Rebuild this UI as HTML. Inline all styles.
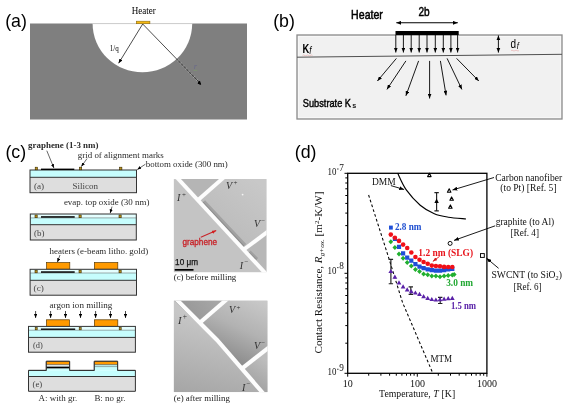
<!DOCTYPE html>
<html><head><meta charset="utf-8"><title>Figure</title>
<style>
html,body{margin:0;padding:0;background:#fff;width:568px;height:408px;overflow:hidden}
svg{display:block;filter:blur(0.3px)}
.sa{font-family:"Liberation Sans",sans-serif}
.se{font-family:"Liberation Serif",serif}
</style></head><body>
<svg width="568" height="408" viewBox="0 0 568 408">
<defs>
<marker id="ah" markerUnits="userSpaceOnUse" viewBox="0 0 10 8" refX="10" refY="4" markerWidth="4.6" markerHeight="3.6" orient="auto-start-reverse"><path d="M0,0L10,4L0,8z" fill="#000"/></marker>
<marker id="ahb" markerUnits="userSpaceOnUse" viewBox="0 0 10 8" refX="10" refY="4" markerWidth="4.8" markerHeight="3.8" orient="auto-start-reverse"><path d="M0,0L10,4L0,8z" fill="#000"/></marker>
<marker id="ahd" markerUnits="userSpaceOnUse" viewBox="0 0 10 8" refX="10" refY="4" markerWidth="5" markerHeight="4.4" orient="auto-start-reverse"><path d="M0,0L10,4L0,8z" fill="#000"/></marker>
<marker id="ahc" markerUnits="userSpaceOnUse" viewBox="0 0 10 8" refX="10" refY="4" markerWidth="4" markerHeight="3.5" orient="auto-start-reverse"><path d="M0,0L10,4L0,8z" fill="#000"/></marker>
<marker id="ahs" markerUnits="userSpaceOnUse" viewBox="0 0 10 8" refX="10" refY="4" markerWidth="5" markerHeight="3.9" orient="auto-start-reverse"><path d="M0,0L10,4L0,8z" fill="#000"/></marker>
<marker id="ahr" markerUnits="userSpaceOnUse" viewBox="0 0 10 8" refX="10" refY="4" markerWidth="4.4" markerHeight="3.6" orient="auto"><path d="M0,0L10,4L0,8z" fill="#d42020"/></marker>
</defs>

<!-- ================= PANEL A ================= -->
<text class="sa" x="16" y="27.3" font-size="17.8" text-anchor="middle">(a)</text>
<rect x="30" y="23.5" width="217" height="96" fill="#7f7f7f"/>
<path d="M92.6,23.5 A49.8,48.8 0 0 0 192.2,23.5 Z" fill="#fff"/>
<line x1="92.5" y1="23.6" x2="192.5" y2="23.6" stroke="#c8c8c8" stroke-width="0.8"/>
<rect x="136.3" y="21.2" width="13.6" height="2.5" fill="#f6b810" stroke="#8a6a10" stroke-width="0.6"/>
<text class="se" x="131.8" y="14" font-size="9.6" textLength="24.1" lengthAdjust="spacingAndGlyphs">Heater</text>
<line x1="142.7" y1="24" x2="118.6" y2="63.3" stroke="#000" stroke-width="0.7" marker-end="url(#ah)"/>
<line x1="142.7" y1="24" x2="177.6" y2="60" stroke="#111" stroke-width="0.75"/>
<line x1="177.6" y1="60" x2="199.8" y2="82.8" stroke="#b8b8b8" stroke-width="1.8" stroke-dasharray="1.6,2.2"/>
<line x1="177.6" y1="60" x2="199.8" y2="82.8" stroke="#2a2a2a" stroke-width="0.8"/>
<path d="M200.6,84.4 L198,83.3 L199.6,81.1 Z" fill="#000" stroke="#000" stroke-width="1"/>
<text class="se" x="109.8" y="50.6" font-size="8" textLength="9" lengthAdjust="spacingAndGlyphs">1/q</text>
<text class="se" x="193.8" y="68.8" font-size="8.6" fill="#6a6a8a" font-style="italic">r</text><line x1="193.4" y1="70.4" x2="197.4" y2="70.4" stroke="#7a9a6a" stroke-width="0.6"/>

<!-- ================= PANEL B ================= -->
<text class="sa" x="284" y="27.3" font-size="17.8" text-anchor="middle">(b)</text>
<rect x="297" y="35" width="265" height="84" fill="#f1f1f1" stroke="#8a8a8a" stroke-width="1.3"/>
<rect x="298.4" y="36.4" width="262.2" height="81.2" fill="none" stroke="#fafafa" stroke-width="0.6"/>
<line x1="297" y1="57.2" x2="562" y2="54.3" stroke="#505050" stroke-width="1"/>
<rect x="395.5" y="31" width="63.2" height="4" fill="#000"/>
<text class="sa" x="351.1" y="19.2" font-size="12.4" stroke="#000" stroke-width="0.5" textLength="31.8" lengthAdjust="spacingAndGlyphs">Heater</text>
<text class="sa" x="418.5" y="15.8" font-size="12.2" stroke="#000" stroke-width="0.5" textLength="11.2" lengthAdjust="spacingAndGlyphs">2b</text>
<line x1="396.3" y1="22.8" x2="457.8" y2="22.8" stroke="#000" stroke-width="1.05" marker-start="url(#ahd)" marker-end="url(#ahd)"/>
<g stroke="#000" stroke-width="0.9" marker-end="url(#ahb)">
<line x1="395.8" y1="35" x2="395.8" y2="52.5"/>
<line x1="403.4" y1="35" x2="403.4" y2="52.5"/>
<line x1="411.2" y1="35" x2="411.2" y2="52.5"/>
<line x1="419.2" y1="35" x2="419.2" y2="52.5"/>
<line x1="427.0" y1="35" x2="427.0" y2="52.5"/>
<line x1="435.3" y1="35" x2="435.3" y2="52.5"/>
<line x1="443.3" y1="35" x2="443.3" y2="52.5"/>
<line x1="450.9" y1="35" x2="450.9" y2="52.5"/>
<line x1="457.6" y1="35" x2="457.6" y2="52.5"/>
<line x1="396.4" y1="58.4" x2="377.4" y2="81"/>
<line x1="405.9" y1="60.9" x2="386.9" y2="89.4"/>
<line x1="418.6" y1="60.9" x2="405.9" y2="95.8"/>
<line x1="429.6" y1="60.9" x2="429.6" y2="98.5"/>
<line x1="440.4" y1="60.9" x2="446.1" y2="95.4"/>
<line x1="447.1" y1="58.4" x2="461.9" y2="89.4"/>
<line x1="456.6" y1="58.4" x2="478.8" y2="81"/>
</g>
<line x1="498.4" y1="35.4" x2="498.4" y2="52.6" stroke="#000" stroke-width="0.9" marker-start="url(#ahd)" marker-end="url(#ahd)"/>
<text class="sa" transform="translate(302.6,53.4) scale(0.72,1)" font-size="13" font-weight="bold">K</text>
<text class="sa" transform="translate(309.2,54.2) scale(0.8,1)" font-size="10" font-style="italic">f</text>
<path d="M302.5,55.4 q1,-0.8 2,0 t2,0 t2,0 t2,0 t2,0" fill="none" stroke="#e07070" stroke-width="0.5" opacity="0.7"/>
<text class="sa" transform="translate(510.6,47.9) scale(0.78,1)" font-size="12.8">d</text>
<text class="sa" transform="translate(516.8,48.9) scale(0.8,1)" font-size="9.6" font-style="italic">f</text>
<path d="M511,50.6 q1,-0.8 2,0 t2,0 t2,0 t2,0" fill="none" stroke="#e07070" stroke-width="0.5" opacity="0.7"/>
<text class="sa" x="302.8" y="107.4" font-size="11" stroke="#000" stroke-width="0.42" textLength="48.2" lengthAdjust="spacingAndGlyphs">Substrate K</text>
<text class="sa" x="352.6" y="108.4" font-size="7" stroke="#000" stroke-width="0.2">s</text>

<!-- ================= PANEL C ================= -->
<text class="sa" x="15.8" y="158.2" font-size="17.8" text-anchor="middle">(c)</text>
<g class="se" font-size="8" fill="#2a2a2a">
<text x="28.1" y="148.1" font-weight="bold" textLength="70.4" lengthAdjust="spacingAndGlyphs">graphene (1-3 nm)</text>
<text x="77.8" y="157.7" textLength="86" lengthAdjust="spacingAndGlyphs">grid of alignment marks</text>
<text x="145.8" y="166.6" textLength="81.9" lengthAdjust="spacingAndGlyphs">bottom oxide (300 nm)</text>
<text x="63.9" y="205.3" textLength="85.5" lengthAdjust="spacingAndGlyphs">evap. top oxide (30 nm)</text>
<text x="49.6" y="253.6" textLength="98.6" lengthAdjust="spacingAndGlyphs">heaters (e-beam litho. gold)</text>
<text x="49.6" y="308" textLength="62.8" lengthAdjust="spacingAndGlyphs">argon ion milling</text>
<text x="38.5" y="401.3" textLength="38.7" lengthAdjust="spacingAndGlyphs">A: with gr.</text>
<text x="94.4" y="401.3" textLength="31.1" lengthAdjust="spacingAndGlyphs">B: no gr.</text>
</g>
<g stroke="#000" stroke-width="0.6" marker-end="url(#ahc)">
<line x1="46.8" y1="150.7" x2="53.9" y2="168"/>
<line x1="87" y1="158.6" x2="81.3" y2="166.6"/>
<line x1="145.4" y1="164.2" x2="137.3" y2="169.6"/>
<line x1="112" y1="206.6" x2="110.2" y2="213.2"/>
<line x1="60" y1="255" x2="57.4" y2="262.2"/>
</g>
<!-- stack a -->
<rect x="30" y="177.3" width="106.5" height="15.4" fill="#dedede"/>
<rect x="30" y="170" width="106.5" height="7.3" fill="#c6fdfd"/>
<line x1="30" y1="177.3" x2="136.5" y2="177.3" stroke="#333" stroke-width="1"/>
<rect x="30" y="170" width="106.5" height="22.7" fill="none" stroke="#333" stroke-width="1"/>
<rect x="41" y="168.6" width="33.3" height="1.4" fill="#000"/>
<g fill="#c09418" stroke="#3a2c00" stroke-width="0.6">
<rect x="35.2" y="167.2" width="2.3" height="2.6"/>
<rect x="79.4" y="167.2" width="2.3" height="2.6"/>
<rect x="119.6" y="167.2" width="2.3" height="2.6"/>
</g>
<!-- stack b -->
<rect x="30.3" y="224.6" width="106" height="15.4" fill="#dedede"/>
<rect x="30.3" y="214" width="106" height="3.8" fill="#e4ffff"/>
<rect x="30.3" y="217.8" width="106" height="6.8" fill="#c6fdfd"/>
<line x1="30.3" y1="217.9" x2="136.3" y2="217.9" stroke="#555" stroke-width="0.5"/>
<line x1="30.3" y1="224.7" x2="136.3" y2="224.7" stroke="#333" stroke-width="1"/>
<rect x="30.3" y="214" width="106" height="26" fill="none" stroke="#333" stroke-width="1"/>
<rect x="41" y="216.2" width="33.7" height="1.5" fill="#000"/>
<g fill="#c09418" stroke="#3a2c00" stroke-width="0.6">
<rect x="35" y="215" width="2.2" height="2.7"/>
<rect x="79" y="215" width="2.2" height="2.7"/>
<rect x="119" y="215" width="2.2" height="2.7"/>
</g>
<!-- stack c -->
<rect x="46.6" y="262.6" width="23.2" height="6.6" fill="#ff9a00" stroke="#5a3a00" stroke-width="0.7"/>
<rect x="94.4" y="262.6" width="23.4" height="6.6" fill="#ff9a00" stroke="#5a3a00" stroke-width="0.7"/>
<rect x="30.1" y="280.3" width="106.4" height="15" fill="#dedede"/>
<rect x="30.1" y="269.3" width="106.4" height="3.6" fill="#e4ffff"/>
<rect x="30.1" y="272.9" width="106.4" height="7.4" fill="#c6fdfd"/>
<line x1="30.1" y1="273" x2="136.5" y2="273" stroke="#555" stroke-width="0.5"/>
<line x1="30.1" y1="280.3" x2="136.5" y2="280.3" stroke="#333" stroke-width="1"/>
<rect x="30.1" y="269.3" width="106.4" height="25.9" fill="none" stroke="#333" stroke-width="1"/>
<rect x="41" y="271.3" width="33.7" height="1.5" fill="#000"/>
<g fill="#c09418" stroke="#3a2c00" stroke-width="0.6">
<rect x="35" y="270.2" width="2.2" height="2.6"/>
<rect x="79" y="270.2" width="2.2" height="2.6"/>
<rect x="119" y="270.2" width="2.2" height="2.6"/>
</g>
<!-- stack d -->
<g stroke="#000" stroke-width="0.7" marker-end="url(#ahc)">
<line x1="35.6" y1="311" x2="35.6" y2="318"/>
<line x1="50.6" y1="311" x2="50.6" y2="318"/>
<line x1="65.5" y1="311" x2="65.5" y2="318"/>
<line x1="80.5" y1="311" x2="80.5" y2="318"/>
<line x1="95.6" y1="311" x2="95.6" y2="318"/>
<line x1="110.5" y1="311" x2="110.5" y2="318"/>
<line x1="125.5" y1="311" x2="125.5" y2="318"/>
</g>
<rect x="46.4" y="319.8" width="23" height="6.6" fill="#ff9a00" stroke="#5a3a00" stroke-width="0.7"/>
<rect x="94.4" y="319.8" width="23.4" height="6.6" fill="#ff9a00" stroke="#5a3a00" stroke-width="0.7"/>
<rect x="28.5" y="337.4" width="106.9" height="14.8" fill="#dedede"/>
<rect x="28.5" y="326.4" width="106.9" height="3.7" fill="#e4ffff"/>
<rect x="28.5" y="330.1" width="106.9" height="7.3" fill="#c6fdfd"/>
<line x1="28.5" y1="330.2" x2="135.4" y2="330.2" stroke="#555" stroke-width="0.5"/>
<line x1="28.5" y1="337.4" x2="135.4" y2="337.4" stroke="#333" stroke-width="1"/>
<rect x="28.5" y="326.4" width="106.9" height="25.8" fill="none" stroke="#333" stroke-width="1"/>
<rect x="40.9" y="328.5" width="34.3" height="1.4" fill="#000"/>
<g fill="#c09418" stroke="#3a2c00" stroke-width="0.6">
<rect x="35.2" y="327.6" width="2" height="2.2"/>
<rect x="79.2" y="327.6" width="2" height="2.2"/>
<rect x="119.2" y="327.6" width="2" height="2.2"/>
</g>
<!-- stack e -->
<rect x="28.5" y="376.5" width="106.9" height="14.8" fill="#dedede"/>
<rect x="28.5" y="370.4" width="106.9" height="6.1" fill="#c6fdfd"/>
<line x1="28.5" y1="376.5" x2="135.4" y2="376.5" stroke="#333" stroke-width="1"/>
<path d="M28.5,370.4 H46.3 V361.3 H69.6 V370.4 H94.3 V361.3 H117.6 V370.4 H135.4 V391.3 H28.5 Z" fill="none" stroke="#333" stroke-width="1"/>
<rect x="46.3" y="361.3" width="23.3" height="3.4" fill="#ff9a00"/>
<rect x="46.3" y="364.7" width="23.3" height="1.9" fill="#f4ffff"/>
<rect x="46.3" y="366.6" width="23.3" height="2" fill="#000"/>
<rect x="46.3" y="368.6" width="23.3" height="1.8" fill="#c6fdfd"/>
<rect x="94.3" y="361.3" width="23.3" height="3.4" fill="#ff9a00"/>
<rect x="94.3" y="364.7" width="23.3" height="5.7" fill="#c6fdfd"/>
<line x1="94.3" y1="366.6" x2="117.6" y2="366.6" stroke="#555" stroke-width="0.5"/>
<line x1="46.3" y1="364.7" x2="69.6" y2="364.7" stroke="#333" stroke-width="0.6"/>
<line x1="94.3" y1="364.7" x2="117.6" y2="364.7" stroke="#333" stroke-width="0.6"/>
<path d="M28.5,370.4 H46.3 V361.3 H69.6 V370.4 H94.3 V361.3 H117.6 V370.4 H135.4" fill="none" stroke="#333" stroke-width="1"/>
<!-- in-stack labels -->
<g class="se" font-size="8.2" fill="#444">
<text x="33.9" y="189.3" textLength="10.2" lengthAdjust="spacingAndGlyphs">(a)</text>
<text x="72.5" y="189.3" textLength="25.5" lengthAdjust="spacingAndGlyphs">Silicon</text>
<text x="34" y="236.4" textLength="10.4" lengthAdjust="spacingAndGlyphs">(b)</text>
<text x="33.6" y="290.8" textLength="10.2" lengthAdjust="spacingAndGlyphs">(c)</text>
<text x="33" y="347.6" textLength="9.8" lengthAdjust="spacingAndGlyphs">(d)</text>
<text x="32.5" y="386.8" textLength="9.8" lengthAdjust="spacingAndGlyphs">(e)</text>
</g>

<!-- SEM 1 -->
<defs>
<clipPath id="c1"><rect x="173.6" y="179.1" width="93" height="93.3"/></clipPath>
<clipPath id="c2"><rect x="173.6" y="300.4" width="94" height="91.8"/></clipPath>
<filter id="bl" x="-20%" y="-20%" width="140%" height="140%"><feGaussianBlur stdDeviation="0.8"/></filter>
<filter id="bl3" x="-20%" y="-20%" width="140%" height="140%"><feGaussianBlur stdDeviation="0.35"/></filter>
<linearGradient id="g2l" gradientUnits="userSpaceOnUse" x1="200" y1="318" x2="182" y2="392"><stop offset="0" stop-color="#c6c6c6"/><stop offset="1" stop-color="#a6a6a6"/></linearGradient>
<linearGradient id="g2t" gradientUnits="userSpaceOnUse" x1="190" y1="318" x2="215" y2="300"><stop offset="0" stop-color="#989898"/><stop offset="1" stop-color="#a6a6a6"/></linearGradient>
<linearGradient id="g2r" gradientUnits="userSpaceOnUse" x1="262" y1="302" x2="234" y2="362"><stop offset="0" stop-color="#c8c8c8"/><stop offset="0.5" stop-color="#b2b2b2"/><stop offset="1" stop-color="#8c8c8c"/></linearGradient>
<linearGradient id="g2b" gradientUnits="userSpaceOnUse" x1="266" y1="360" x2="250" y2="385"><stop offset="0" stop-color="#bdbdbd"/><stop offset="1" stop-color="#a2a2a2"/></linearGradient>
<linearGradient id="g1r" gradientUnits="userSpaceOnUse" x1="262" y1="185" x2="220" y2="240"><stop offset="0" stop-color="#c8c8c8"/><stop offset="1" stop-color="#bababa"/></linearGradient>
</defs>
<g clip-path="url(#c1)">
<rect x="173.6" y="179.1" width="93" height="93.3" fill="#c4c4c4"/>
<path d="M176,179.1 L222,179.1 L197,201 Z" fill="#b5b5b5"/>
<path d="M219.6,179.1 L266.6,179.1 L266.6,232.5 L242.5,249.8 L196.8,199.5 Z" fill="url(#g1r)"/>
<path d="M242.5,249.8 L266.6,232.5 L266.6,271.8 L262.5,271.8 Z" fill="#b7b7b7"/>
<g filter="url(#bl3)" fill="none" stroke-linecap="butt">
<path d="M203.8,201.3 L245,245.2" stroke="#a2a2a2" stroke-width="3.4"/>
<path d="M202.6,201.9 L243.9,246.1" stroke="#8e8e8e" stroke-width="1.3"/>
<path d="M249.6,251.6 L257.2,259" stroke="#a0a0a0" stroke-width="2.8"/>
<path d="M248.8,252.3 L256.4,259.7" stroke="#909090" stroke-width="1.1"/>
</g>
<g stroke="#fdfdfd" stroke-width="3.9" fill="none" filter="url(#bl3)">
<path d="M174.6,175 L267.9,276"/>
<path d="M226.5,175 L197.5,200.5"/>
<path d="M271,229.3 L243.5,249.8"/>
</g>
</g>
<circle cx="242.6" cy="194.6" r="0.9" fill="#f4f4f4"/><circle cx="248.5" cy="315.8" r="0.8" fill="#e0e0e0"/>
<g class="se" font-style="italic" fill="#303030" font-size="10">
<text x="177" y="201.4">I</text><text x="182" y="197.4" font-size="7" font-style="normal">+</text>
<text x="226" y="188.8">V</text><text x="233.4" y="185" font-size="7" font-style="normal">+</text>
<text x="254" y="226.6">V</text><text x="261.2" y="222.6" font-size="7" font-style="normal">−</text>
<text x="239.8" y="268.6">I</text><text x="244.4" y="264.4" font-size="7" font-style="normal">−</text>
</g>
<text class="sa" x="182.4" y="244.7" font-size="9.5" fill="#c8242a" stroke="#c8242a" stroke-width="0.35" textLength="34.7" lengthAdjust="spacingAndGlyphs">graphene</text>
<line x1="200.8" y1="237.3" x2="216.2" y2="230.5" stroke="#c8242a" stroke-width="1.1" marker-end="url(#ahr)"/>
<text class="sa" x="175.1" y="264.8" font-size="9" fill="#111" stroke="#111" stroke-width="0.25" textLength="22.9" lengthAdjust="spacingAndGlyphs">10 μm</text>
<rect x="174.7" y="269" width="18.8" height="1.7" fill="#000"/>
<text class="se" x="173.7" y="279.8" font-size="8.3" fill="#222" textLength="62.6" lengthAdjust="spacingAndGlyphs">(c) before milling</text>
<!-- SEM 2 -->
<g clip-path="url(#c2)">
<rect x="173.6" y="300.4" width="94" height="91.8" fill="url(#g2l)"/>
<path d="M174,300.4 L230,300.4 L199.5,325 Z" fill="url(#g2t)"/>
<path d="M225,300.4 L267.6,300.4 L267.6,347 L242,368.5 L199.5,323 Z" fill="url(#g2r)"/>
<path d="M242,368.5 L267.6,347 L267.6,392.2 L262,392.2 Z" fill="url(#g2b)"/>
<g stroke="#fdfdfd" stroke-width="4.1" fill="none" filter="url(#bl3)">
<path d="M173.1,296 L217,340 L265.5,396"/>
<path d="M230.6,296 L199.5,323"/>
<path d="M272.5,344.6 L241.8,368.6"/>
</g>
</g>
<g class="se" font-style="italic" fill="#303030" font-size="10">
<text x="178" y="323.6" font-size="10.5">I</text><text x="182.8" y="319.2" font-size="7.5" font-style="normal">+</text>
<text x="229" y="313.4">V</text><text x="236.4" y="309.6" font-size="7" font-style="normal">+</text>
<text x="254" y="348.8">V</text><text x="261.2" y="344.8" font-size="7" font-style="normal">−</text>
<text x="242" y="390.6">I</text><text x="246.6" y="386.4" font-size="7" font-style="normal">−</text>
</g>
<text class="se" x="173.8" y="401" font-size="8.3" fill="#222" textLength="56.1" lengthAdjust="spacingAndGlyphs">(e) after milling</text>

<!-- ================= PANEL D ================= -->
<text class="sa" x="305.6" y="158.2" font-size="17.8" text-anchor="middle">(d)</text>
<path d="M345.3,243.2H347.7 M345.3,225.6H347.7 M345.3,213.1H347.7 M345.3,203.4H347.7 M345.3,195.5H347.7 M345.3,188.8H347.7 M345.3,183.0H347.7 M345.3,177.9H347.7 M345.3,343.2H347.7 M345.3,325.6H347.7 M345.3,313.1H347.7 M345.3,303.4H347.7 M345.3,295.5H347.7 M345.3,288.8H347.7 M345.3,283.0H347.7 M345.3,277.9H347.7 M344.5,173.3H347.7 M344.5,273.3H347.7 M344.5,373.3H347.7 M368.7,373.3V375.7 M380.9,373.3V375.7 M389.6,373.3V375.7 M396.3,373.3V375.7 M401.9,373.3V375.7 M406.5,373.3V375.7 M410.6,373.3V375.7 M414.1,373.3V375.7 M438.3,373.3V375.7 M450.5,373.3V375.7 M459.2,373.3V375.7 M465.9,373.3V375.7 M471.5,373.3V375.7 M476.1,373.3V375.7 M480.2,373.3V375.7 M483.7,373.3V375.7 M347.7,373.3V376.7 M417.3,373.3V376.7 M486.9,373.3V376.7" stroke="#000" stroke-width="1" fill="none"/>
<rect x="347.7" y="173.3" width="139.2" height="200.0" fill="none" stroke="#000" stroke-width="1.3"/>
<g class="se" fill="#111">
<text x="327.6" y="175.0" font-size="10.4" textLength="8.9" lengthAdjust="spacingAndGlyphs">10</text>
<rect x="337" y="168.6" width="1.6" height="0.8" fill="#222"/>
<text x="339.2" y="170.6" font-size="9.6" textLength="4.6" lengthAdjust="spacingAndGlyphs">7</text>
<text x="327.6" y="273.7" font-size="10.4" textLength="8.9" lengthAdjust="spacingAndGlyphs">10</text>
<rect x="337" y="267.3" width="1.6" height="0.8" fill="#222"/>
<text x="339.2" y="269.3" font-size="9.6" textLength="4.6" lengthAdjust="spacingAndGlyphs">8</text>
<text x="327.6" y="375.2" font-size="10.4" textLength="8.9" lengthAdjust="spacingAndGlyphs">10</text>
<rect x="337" y="368.8" width="1.6" height="0.8" fill="#222"/>
<text x="339.2" y="370.8" font-size="9.6" textLength="4.6" lengthAdjust="spacingAndGlyphs">9</text>
<text x="347.7" y="386.5" font-size="10" text-anchor="middle">10</text>
<text x="417.5" y="386.5" font-size="10" text-anchor="middle">100</text>
<text x="486.9" y="386.5" font-size="10" text-anchor="middle">1000</text>
<text x="379.1" y="397.4" font-size="10" textLength="76.1" lengthAdjust="spacingAndGlyphs">Temperature, <tspan font-style="italic">T</tspan><tspan dx="3">[K]</tspan></text>
<text transform="translate(322.3,353.5) rotate(-90)" font-size="10" textLength="162" lengthAdjust="spacingAndGlyphs">Contact Resistance, <tspan font-style="italic">R</tspan><tspan font-size="6.5" dy="2" font-style="italic">g+ox.</tspan><tspan dy="-2">  [m</tspan><tspan font-size="6.5" dy="-3.5">2</tspan><tspan dy="3.5">-K/W]</tspan></text>
<text x="372" y="184.6" font-size="10" textLength="23.7" lengthAdjust="spacingAndGlyphs">DMM</text>
<text x="430.5" y="361.8" font-size="10" textLength="21.7" lengthAdjust="spacingAndGlyphs">MTM</text>
<text x="495.2" y="180.8" font-size="10" textLength="66.9" lengthAdjust="spacingAndGlyphs">Carbon nanofiber</text>
<text x="500.3" y="190.7" font-size="10" textLength="56.3" lengthAdjust="spacingAndGlyphs">(to Pt) [Ref. 5]</text>
<text x="495.7" y="225" font-size="10" textLength="58.5" lengthAdjust="spacingAndGlyphs">graphite (to Al)</text>
<text x="510.5" y="236.2" font-size="10" textLength="28.5" lengthAdjust="spacingAndGlyphs">[Ref. 4]</text>
<text x="491.5" y="278.2" font-size="10" textLength="70.4" lengthAdjust="spacingAndGlyphs">SWCNT (to SiO<tspan font-size="6.5" dy="1.6">2</tspan><tspan dy="-1.6">)</tspan></text>
<text x="513.4" y="289.5" font-size="10" textLength="28.1" lengthAdjust="spacingAndGlyphs">[Ref. 6]</text>
</g>
<g class="se" font-weight="bold" font-size="9.6">
<text x="394.9" y="229.9" fill="#1f4fd0" textLength="26.6" lengthAdjust="spacingAndGlyphs">2.8 nm</text>
<text x="418.3" y="256.3" fill="#e8141c" textLength="54.8" lengthAdjust="spacingAndGlyphs">1.2 nm (SLG)</text>
<text x="446.2" y="286" fill="#21a832" textLength="26.9" lengthAdjust="spacingAndGlyphs">3.0 nm</text>
<text x="450.9" y="309.1" fill="#5a22a8" textLength="25.2" lengthAdjust="spacingAndGlyphs">1.5 nm</text>
</g>
<path d="M397.6,173.1 C399.0,175.9 402.3,184.3 406.1,189.7 C409.9,195.0 415.5,201.2 420.2,205.2 C424.9,209.2 429.6,211.7 434.3,213.7 C439.0,215.7 443.0,216.3 448.3,217.2 C453.6,218.1 463.1,218.7 466,219" fill="none" stroke="#000" stroke-width="1.15"/>
<path d="M368.6,195 L388.2,256.2 L402.5,302.4 L432.3,372" fill="none" stroke="#000" stroke-width="1.05" stroke-dasharray="2.8,2.2"/>
<g stroke="#000" stroke-width="0.9" marker-end="url(#ahs)">
<line x1="390.9" y1="185.6" x2="404.1" y2="189.5"/>
<line x1="494" y1="177.5" x2="452.5" y2="190"/>
<line x1="495.2" y1="225.8" x2="454" y2="240.4"/>
<line x1="498.6" y1="268.3" x2="486.5" y2="258.2"/>
</g>
<line x1="439.6" y1="256.4" x2="432.8" y2="261.4" stroke="#e8141c" stroke-width="0.9" marker-end="url(#ahr)"/>
<path d="M390.9,259.4V283.7M388.7,259.4H393.09999999999997M388.7,283.7H393.09999999999997 M410.8,286.9V294.4M408.6,286.9H413.0M408.6,294.4H413.0 M440.2,297.3V303.5M438.0,297.3H442.4M438.0,303.5H442.4 M436.6,192.6V210.8M434.40000000000003,192.6H438.8M434.40000000000003,210.8H438.8" stroke="#222" stroke-width="1.15" fill="none"/>
<path d="M390.8,268.9L393.2,273.1L388.4,273.1ZM394.9,274.5L397.3,278.7L392.5,278.7ZM399.0,280.2L401.4,284.4L396.6,284.4ZM403.1,284.2L405.5,288.4L400.7,288.4ZM407.2,287.2L409.6,291.4L404.8,291.4ZM411.3,289.0L413.7,293.2L408.9,293.2ZM415.4,290.4L417.8,294.6L413.0,294.6ZM419.5,291.8L421.9,296.0L417.1,296.0ZM423.6,294.0L426.0,298.2L421.2,298.2ZM427.7,295.7L430.1,299.9L425.3,299.9ZM431.8,296.9L434.2,301.1L429.4,301.1ZM435.9,297.4L438.3,301.6L433.5,301.6ZM440.0,297.1L442.4,301.3L437.6,301.3ZM444.1,296.5L446.5,300.7L441.7,300.7ZM448.2,296.0L450.6,300.2L445.8,300.2ZM452.3,295.7L454.7,299.9L449.9,299.9Z" fill="#5a22a8"/>
<path d="M390.8,239.3L393.2,241.8L390.8,244.3L388.4,241.8ZM394.9,245.1L397.3,247.6L394.9,250.1L392.5,247.6ZM399.0,251.4L401.4,253.9L399.0,256.4L396.6,253.9ZM403.1,255.8L405.5,258.3L403.1,260.8L400.7,258.3ZM407.2,260.0L409.6,262.5L407.2,265.0L404.8,262.5ZM411.3,263.5L413.7,266.0L411.3,268.5L408.9,266.0ZM415.4,266.9L417.8,269.4L415.4,271.9L413.0,269.4ZM419.5,269.1L421.9,271.6L419.5,274.1L417.1,271.6ZM423.6,271.5L426.0,274.0L423.6,276.5L421.2,274.0ZM427.7,272.2L430.1,274.7L427.7,277.2L425.3,274.7ZM431.8,273.4L434.2,275.9L431.8,278.4L429.4,275.9ZM435.9,273.6L438.3,276.1L435.9,278.6L433.5,276.1ZM440.0,274.3L442.4,276.8L440.0,279.3L437.6,276.8ZM444.1,273.5L446.5,276.0L444.1,278.5L441.7,276.0ZM448.2,273.0L450.6,275.5L448.2,278.0L445.8,275.5ZM452.3,272.5L454.7,275.0L452.3,277.5L449.9,275.0ZM454.2,272.1L456.6,274.6L454.2,277.1L451.8,274.6Z" fill="#21b030"/>
<path d="M392.8,236.9h4.2v4.2h-4.2ZM396.9,244.8h4.2v4.2h-4.2ZM401.0,251.3h4.2v4.2h-4.2ZM405.1,255.5h4.2v4.2h-4.2ZM409.2,258.5h4.2v4.2h-4.2ZM413.3,262.1h4.2v4.2h-4.2ZM417.4,264.5h4.2v4.2h-4.2ZM421.5,266.1h4.2v4.2h-4.2ZM425.6,267.3h4.2v4.2h-4.2ZM429.7,268.1h4.2v4.2h-4.2ZM433.8,268.5h4.2v4.2h-4.2ZM437.9,268.5h4.2v4.2h-4.2ZM442.0,268.1h4.2v4.2h-4.2ZM446.1,267.3h4.2v4.2h-4.2ZM450.2,266.7h4.2v4.2h-4.2Z" fill="#1f4fd8"/>
<circle cx="390.8" cy="234.6" r="2.3" fill="#f01018"/>
<circle cx="394.9" cy="237.7" r="2.3" fill="#f01018"/>
<circle cx="399.0" cy="240.9" r="2.3" fill="#f01018"/>
<circle cx="403.1" cy="244.6" r="2.3" fill="#f01018"/>
<circle cx="407.2" cy="248.0" r="2.3" fill="#f01018"/>
<circle cx="411.3" cy="252.5" r="2.3" fill="#f01018"/>
<circle cx="415.4" cy="257.0" r="2.3" fill="#f01018"/>
<circle cx="419.5" cy="259.8" r="2.3" fill="#f01018"/>
<circle cx="423.6" cy="262.0" r="2.3" fill="#f01018"/>
<circle cx="427.7" cy="263.8" r="2.3" fill="#f01018"/>
<circle cx="431.8" cy="265.6" r="2.3" fill="#f01018"/>
<circle cx="435.9" cy="266.0" r="2.3" fill="#f01018"/>
<circle cx="440.0" cy="266.3" r="2.3" fill="#f01018"/>
<circle cx="444.1" cy="266.9" r="2.3" fill="#f01018"/>
<circle cx="448.2" cy="267.0" r="2.3" fill="#f01018"/>
<circle cx="452.3" cy="267.0" r="2.3" fill="#f01018"/>
<rect x="389" y="225.6" width="3.8" height="4" fill="#1f4fd8"/>
<path d="M429.4,173.2L431.1,176.6L427.6,176.6ZM449.2,188.8L450.9,192.2L447.4,192.2ZM451.6,196.9L453.4,200.3L449.9,200.3ZM450.4,204.9L452.1,208.3L448.6,208.3Z" fill="#fff" stroke="#000" stroke-width="1.1" stroke-linejoin="round"/>
<path d="M436.6,198.6L438.8,203L434.4,203Z" fill="#000"/>
<circle cx="450.1" cy="243.4" r="2" fill="#fff" stroke="#000" stroke-width="0.95"/>
<rect x="480.5" y="253.6" width="3.8" height="3.8" fill="#fff" stroke="#000" stroke-width="0.95"/>
</svg>
</body></html>
